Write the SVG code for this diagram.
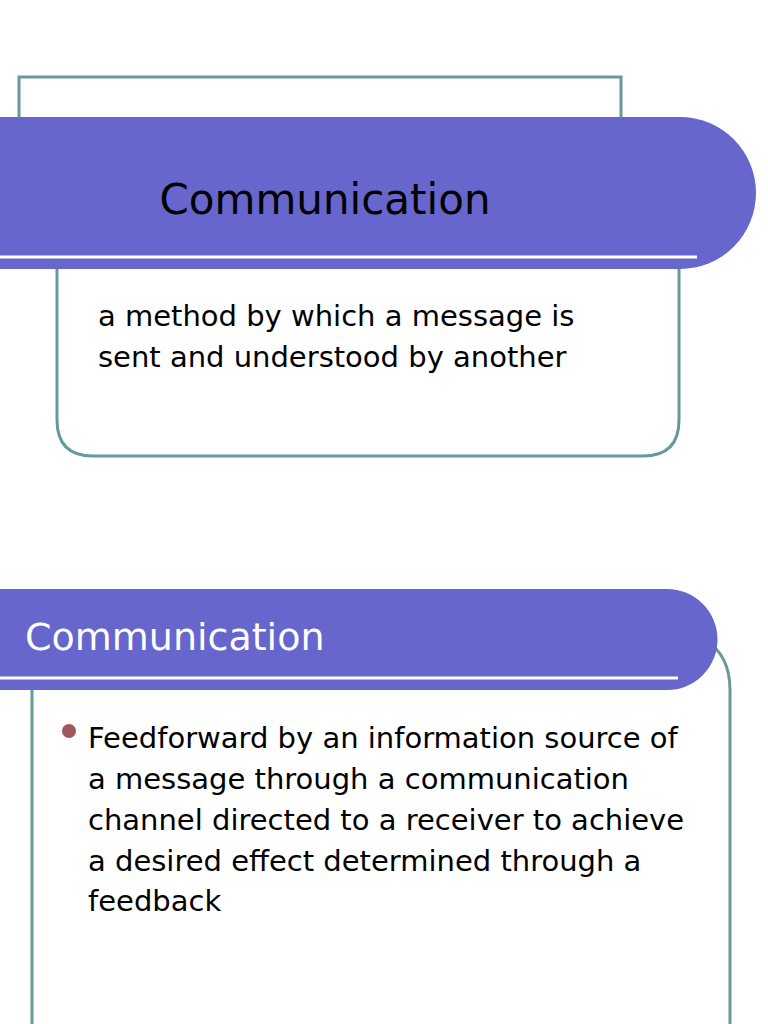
<svg xmlns="http://www.w3.org/2000/svg" width="768" height="1024" viewBox="0 0 768 1024">
<style>
.o{fill:none;stroke:#669999;stroke-width:3}
.band{fill:#6666cc}
.wl{stroke:#ffffff;stroke-width:3}
text{font-family:"DejaVu Sans",Verdana,sans-serif}
.b{font-size:29px;fill:#000}
</style>
<rect width="768" height="1024" fill="#fff"/>
<g id="slide1">
<path class="o" d="M19,117 V77 H621 V117"/>
<path class="o" d="M57,268 V420 Q57,456 93,456 H643 Q679,456 679,420 V268"/>
<path class="band" d="M0,117 H680 A76,76 0 0 1 680,269 H0 Z"/>
<line class="wl" x1="0" y1="257" x2="697" y2="257"/>
<text x="325" y="214" font-size="42" text-anchor="middle">Communication</text>
<text class="b" x="98" y="326">a method by which a message is</text>
<text class="b" x="98" y="367">sent and understood by another</text>
</g>
<g id="slide2">
<path class="o" d="M32,690 V1024"/>
<path class="o" d="M705,640 Q730,655 730,690 V1024"/>
<path class="band" d="M0,589 H667 A50,50 0 0 1 667,690 H0 Z"/>
<line class="wl" x1="0" y1="678" x2="678" y2="678"/>
<text x="25" y="650" font-size="38" fill="#fff">Communication</text>
<circle cx="69" cy="731" r="7" fill="#9e5a5a"/>
<text class="b" x="88" y="748">Feedforward by an information source of</text>
<text class="b" x="88" y="789">a message through a communication</text>
<text class="b" x="88" y="830">channel directed to a receiver to achieve</text>
<text class="b" x="88" y="871">a desired effect determined through a</text>
<text class="b" x="88" y="911">feedback</text>
</g>
</svg>
